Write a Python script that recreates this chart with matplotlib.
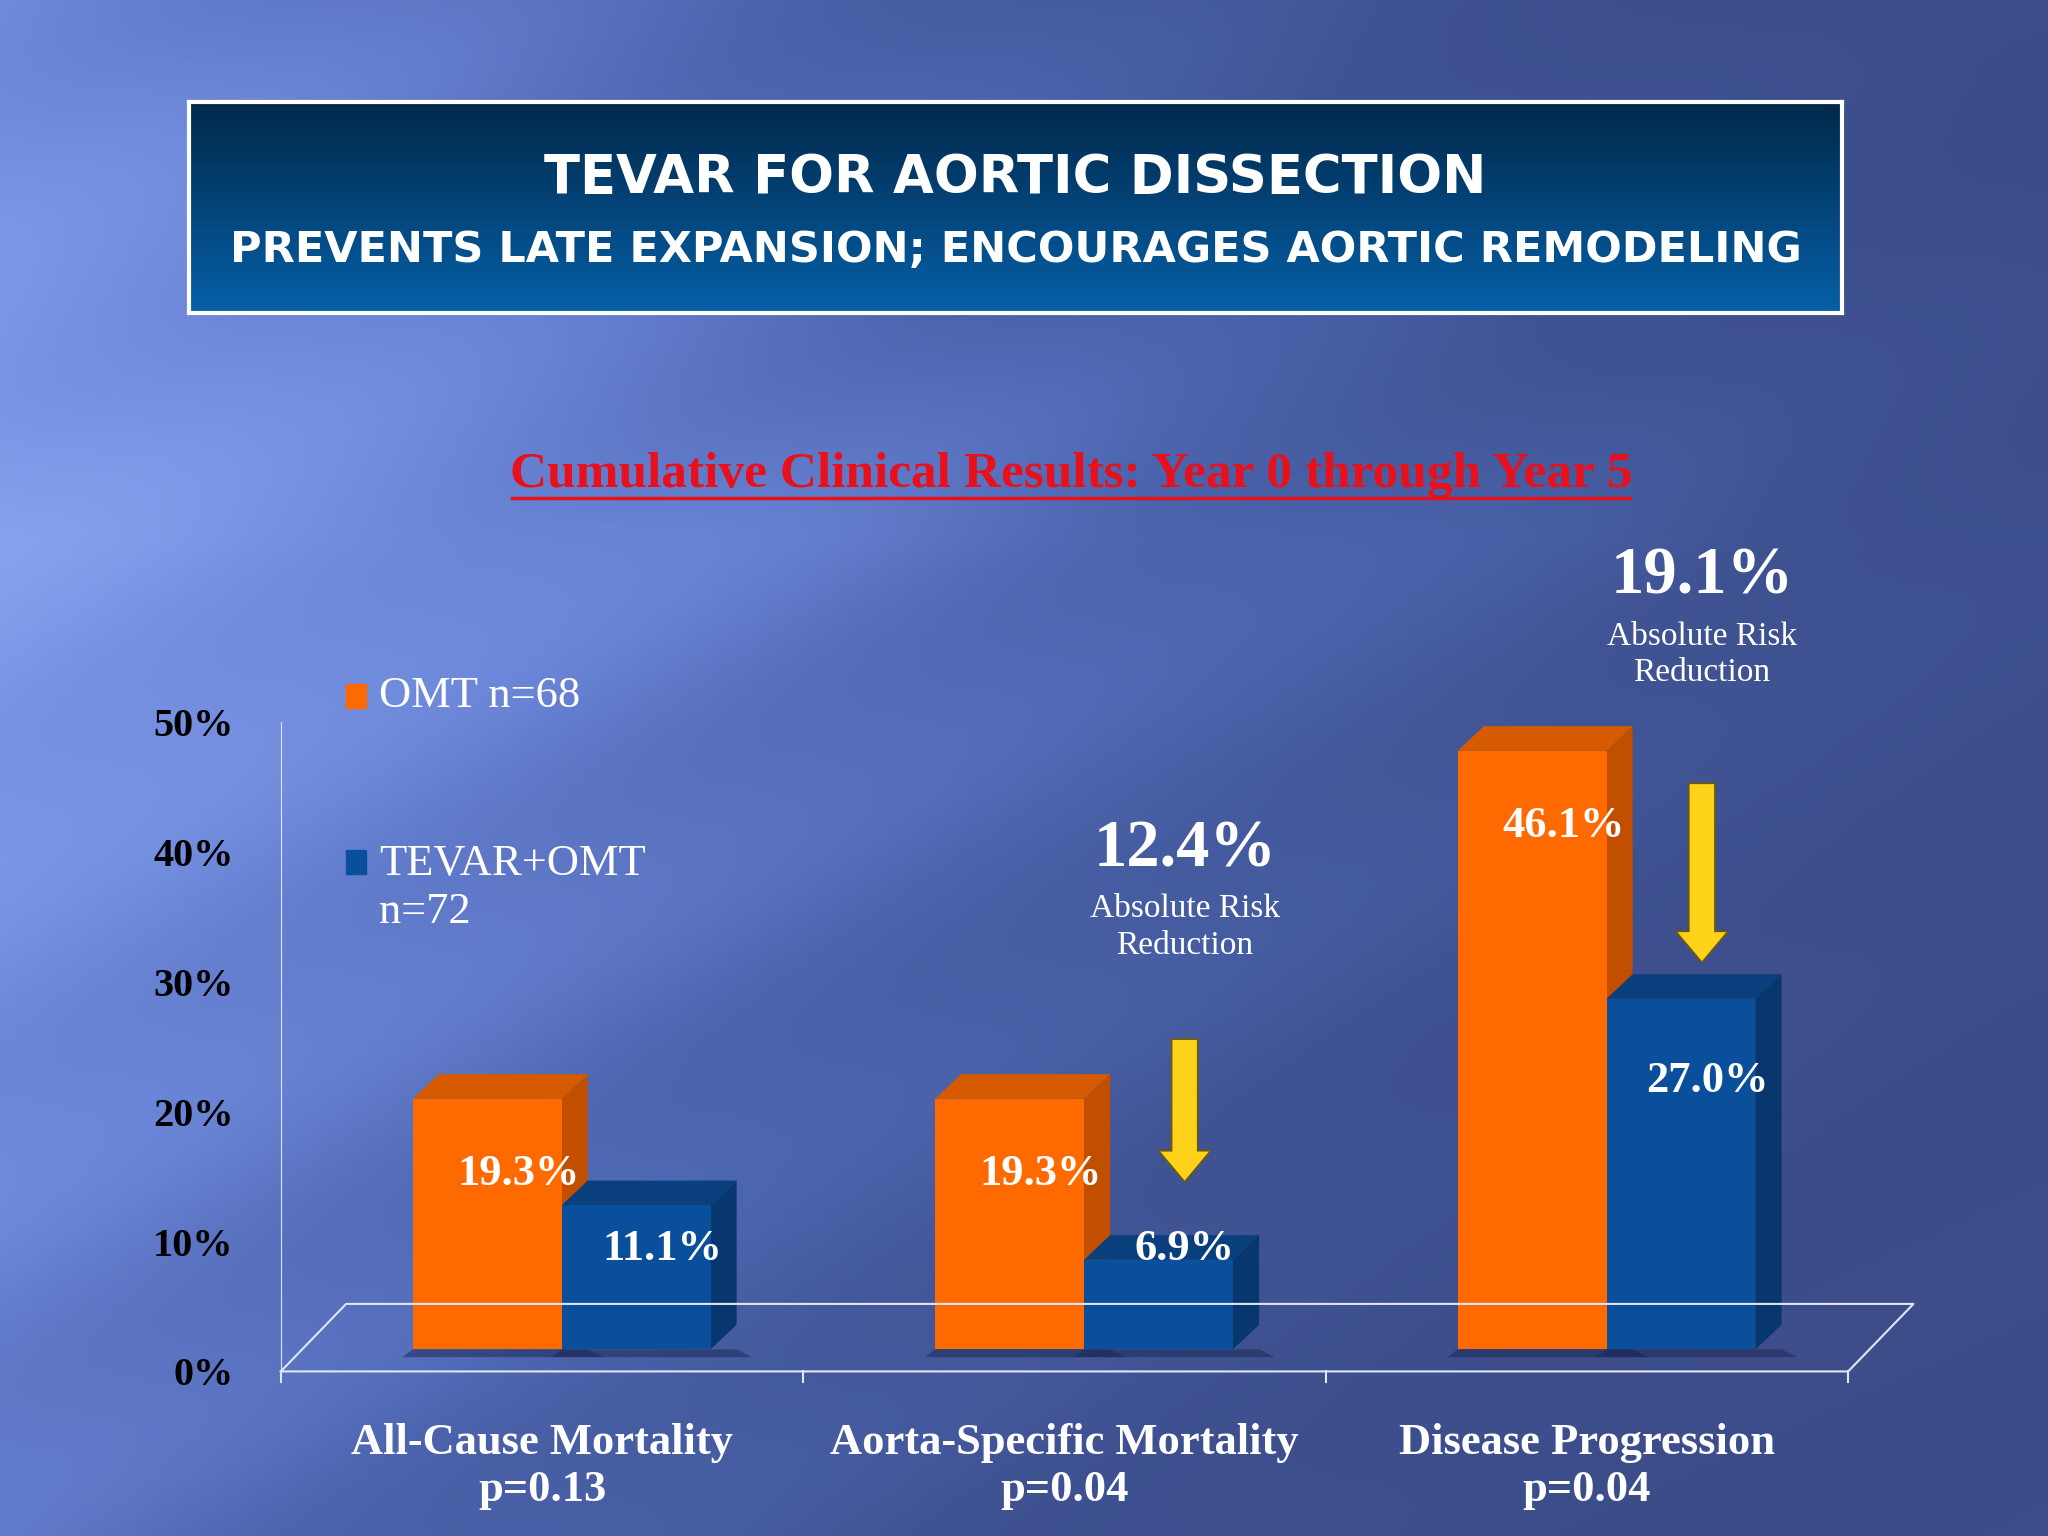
import matplotlib
matplotlib.use('Agg')
import matplotlib.pyplot as plt
import numpy as np
from matplotlib.patches import Polygon, Rectangle, FancyArrow
from matplotlib.colors import LinearSegmentedColormap

categories = ['All-Cause Mortality\np=0.13', 'Aorta-Specific Mortality\np=0.04', 'Disease Progression\np=0.04']
omt = [19.3, 19.3, 46.1]
tevar = [11.1, 6.9, 27.0]
yticks = [0, 10, 20, 30, 40, 50]
arr_text = ['12.4%', '19.1%']

SERIF = ['Liberation Serif', 'DejaVu Serif']
W, H = 1568.0, 1176.0

fig = plt.figure(figsize=(20.48, 15.36), dpi=100)

# background gradient
bg = fig.add_axes([0, 0, 1, 1])
yy, xx = np.mgrid[0:1:300j, 0:1:400j]
t = np.clip(0.85 * xx + 0.35 * np.abs(yy - 0.35) * 1.6, 0, 1)
t += 0.04 * np.sin((xx * 3 + yy * 5) * 6)
cmap = LinearSegmentedColormap.from_list('bg', ['#86a2ee', '#6b86d8', '#4d66b0', '#3f5292', '#3b4c88'])
bg.imshow(t, cmap=cmap, extent=[0, 1, 0, 1], aspect='auto', origin='upper')
bg.set_axis_off()

# title box
tb = fig.add_axes([145 / W, 1 - 240 / H, 1265 / W, 162 / H])
g = np.linspace(0, 1, 200)[:, None]
tb.imshow(g, cmap=LinearSegmentedColormap.from_list('t', ['#01284a', '#0660a8']),
          extent=[0, 1, 0, 1], aspect='auto', origin='upper')
tb.set_xlim(0, 1); tb.set_ylim(0, 1)
tb.set_xticks([]); tb.set_yticks([])
for s in tb.spines.values():
    s.set_color('white'); s.set_linewidth(3)
tb.text(0.5, 0.64, 'TEVAR FOR AORTIC DISSECTION', color='white', fontsize=38,
        fontweight='bold', ha='center', va='center')
tb.text(0.5, 0.3, 'PREVENTS LATE EXPANSION; ENCOURAGES AORTIC REMODELING', color='white',
        fontsize=31, fontweight='bold', ha='center', va='center')

# red subtitle
fig.text(820 / W, 1 - 364 / H, 'Cumulative Clinical Results: Year 0 through Year 5', color='#e8101a',
         fontsize=37, fontweight='bold', family=SERIF, ha='center', va='center')
fig.add_artist(plt.Line2D([392 / W, 1248 / W], [1 - 381 / H] * 2, color='#e8101a', lw=2.5))

# chart
ax = fig.add_axes([215 / W, 1 - 1050 / H, 1200 / W, 497 / H])
ax.set_xlim(0, 3); ax.set_ylim(0, 50)
ax.patch.set_alpha(0)
for k in ['top', 'right', 'bottom']:
    ax.spines[k].set_visible(False)
ax.spines['left'].set_color('#dfe6f5')
ax.set_xticks([])
ax.set_yticks(yticks)
ax.set_yticklabels([f'{v}%' for v in yticks], fontsize=29, fontweight='bold', family=SERIF, color='black')
ax.tick_params(axis='y', length=0, pad=34)

dx, dy = 0.05, 1.9   # 3D depth
fx, fy = 0.125, 5.2  # floor depth
lc = '#dfe6f5'
ax.plot([0, 3, 3 + fx, fx, 0], [0, 0, fy, fy, 0], color=lc, lw=1.5, clip_on=False)
for i in range(4):
    ax.plot([i, i], [0, -0.8], color=lc, lw=1.5, clip_on=False)

bw = 0.285
base = 1.7
ocol = ('#ff6a00', '#c24e00', '#d65a00')
bcol = ('#0a4f9c', '#07376e', '#083f7c')
for i in range(3):
    x0 = i + 0.2525
    for x, v, c in [(x0, omt[i], ocol), (x0 + bw, tevar[i], bcol)]:
        # shadow
        ax.add_patch(Polygon([(x, base), (x + bw + dx, base), (x + bw + dx + 0.03, base - 0.6),
                              (x - 0.02, base - 0.6)], closed=True, color='#1a2550', alpha=0.5, lw=0))
        ax.add_patch(Polygon([(x + bw, base), (x + bw + dx, base + dy), (x + bw + dx, base + v + dy),
                              (x + bw, base + v)], closed=True, color=c[1], lw=0))
        ax.add_patch(Polygon([(x, base + v), (x + dx, base + v + dy), (x + bw + dx, base + v + dy),
                              (x + bw, base + v)], closed=True, color=c[2], lw=0))
        ax.add_patch(Rectangle((x, base), bw, v, color=c[0], lw=0))
    ax.text(x0 + bw / 2 + 0.06, base + omt[i] - 5.8, f'{omt[i]}%', color='white', fontsize=32,
            fontweight='bold', family=SERIF, ha='center', va='center')
    ax.text(x0 + 1.5 * bw + 0.05, max(base + tevar[i] - 6.3, 9.4), f'{tevar[i]}%', color='white',
            fontsize=32, fontweight='bold', family=SERIF, ha='center', va='center')
    ax.text(i + 0.5, -4.0, categories[i], color='white', fontsize=32, fontweight='bold',
            family=SERIF, ha='center', va='top', linespacing=1.2)

# arrows and risk reductions
for j, i in enumerate([1, 2]):
    xc = i + 0.2525 + 1.5 * bw + (0.05 if i == 1 else 0.04)
    top = 25.6 if i == 1 else 45.3
    bot = 14.6 if i == 1 else 31.5
    ax.add_patch(FancyArrow(xc, top, 0, bot - top, width=0.05, head_width=0.1, head_length=2.4,
                            length_includes_head=True, facecolor='#ffd21a', edgecolor='#6b5a10', lw=1.2))
    ty = 40.2 if i == 1 else 61.2
    ax.text(xc, ty, arr_text[j], color='white', fontsize=48, fontweight='bold', family=SERIF,
            ha='center', va='center', clip_on=False)
    ax.text(xc, ty - 6, 'Absolute Risk\nReduction', color='white', fontsize=24, family=SERIF,
            ha='center', va='center', linespacing=1.25, clip_on=False)

# legend
fig.add_artist(Rectangle((265 / W, 1 - 542 / H), 15 / W, 18 / H, color='#ff6a00'))
fig.text(290 / W, 1 - 533 / H, 'OMT n=68', color='white', fontsize=32, family=SERIF, va='center')
fig.add_artist(Rectangle((265 / W, 1 - 669 / H), 15 / W, 18 / H, color='#0a4f9c'))
fig.text(290 / W, 1 - 680 / H, 'TEVAR+OMT\nn=72', color='white', fontsize=32, family=SERIF,
         va='center', linespacing=1.25)

fig.savefig('out.png', dpi=100)
